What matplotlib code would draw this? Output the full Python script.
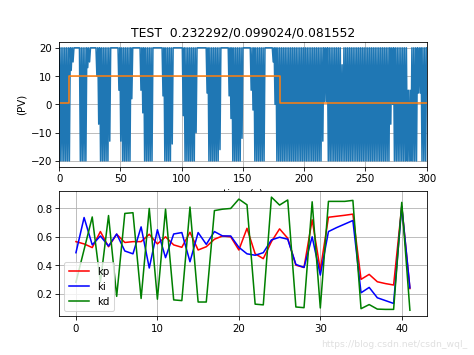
import numpy as np
import matplotlib
matplotlib.use("Agg")
import matplotlib.pyplot as plt

# ---- PV (controller output), bang-bang between +20 / -20 ----
pv_dt = 0.75
pv_high, pv_low = 20, -20
# intervals where the output sits at +20
hold_start = [12, 25, 41, 59, 77, 93, 112, 131, 150, 168]
hold_end = [16, 30, 48, 66, 84, 100, 120, 138, 156, 174]
# shallow troughs (time, value)
trough_t = [9.5, 11, 23, 24.5, 30.5, 32, 40.5, 48.5, 50, 58.5,
            66.5, 68, 84.5, 92.5, 100.5, 111.5, 120.5, 130.5, 138.5, 140,
            149.5, 156.5, 158, 174.5, 176,
            215, 216.5, 218, 270.5, 272, 293.5, 295, 299.5]
trough_v = [12, 15, 13, 15, 10, -7, -13, 5, -13, 2,
            5, -3, 3, -14, -4, -10, 4, -16, 3, -5,
            -12, 5, -2, 15, 0,
            -13, 1, 1, -7, 0, 4, 4, -20]
# low peaks (time, value)
peak_t = [230, 284, 285.5]
peak_v = [14, 5, 5]

# setpoint
sp_t = [0, 8, 180, 300]
sp_v = [0.6, 10, 0.6, 0.6]

# ---- PID gains per run ----
runs = list(range(42))
kp = [0.566, 0.55, 0.524, 0.637, 0.53, 0.618, 0.56, 0.566, 0.566, 0.618,
      0.55, 0.60, 0.543, 0.526, 0.632, 0.507, 0.53, 0.583, 0.606, 0.60,
      0.507, 0.66, 0.48, 0.446, 0.566, 0.656, 0.59, 0.40, 0.384, 0.72,
      0.365, 0.738, 0.745, 0.752, 0.76, 0.30, 0.335, 0.283, 0.27, 0.26,
      0.815, 0.235]
ki = [0.488, 0.736, 0.543, 0.606, 0.535, 0.62, 0.50, 0.48, 0.67, 0.38,
      0.65, 0.453, 0.62, 0.63, 0.424, 0.63, 0.547, 0.637, 0.606, 0.606,
      0.526, 0.48, 0.47, 0.488, 0.578, 0.597, 0.583, 0.405, 0.384, 0.60,
      0.33, 0.637, 0.665, 0.69, 0.715, 0.205, 0.243, 0.17, 0.15, 0.13,
      0.815, 0.24]
kd = [0.28, 0.51, 0.74, 0.28, 0.75, 0.18, 0.765, 0.77, 0.165, 0.80,
      0.16, 0.795, 0.155, 0.15, 0.81, 0.14, 0.14, 0.785, 0.795, 0.80,
      0.866, 0.826, 0.125, 0.12, 0.88, 0.824, 0.86, 0.105, 0.10, 0.847,
      0.098, 0.85, 0.85, 0.85, 0.857, 0.093, 0.122, 0.09, 0.088, 0.088,
      0.843, 0.082]

# build the PV trace from the pieces above
n = int(300 / pv_dt) + 1
idx = np.arange(n)
pv_t = idx * pv_dt
pv = np.where(idx % 2 == 0, pv_high, pv_low).astype(float)
for a, b in zip(hold_start, hold_end):
    pv[(pv_t >= a) & (pv_t <= b)] = pv_high


def nearest(t, odd):
    i = int(round(t / pv_dt))
    if (i % 2 == 1) != odd:
        i = i + 1 if i + 1 < n else i - 1
    return i


for t, v in zip(trough_t, trough_v):
    pv[nearest(t, True)] = v
for t, v in zip(peak_t, peak_v):
    pv[nearest(t, False)] = v

fig = plt.figure(figsize=(6.4, 4.8), dpi=74.0625)

ax1 = plt.subplot(211)
ax1.plot(pv_t, pv)
ax1.plot(sp_t, sp_v, drawstyle="steps-post")
ax1.set_title("TEST  0.232292/0.099024/0.081552")
ax1.set_ylabel("(PV)")
ax1.set_xlabel("time (s)")
ax1.set_xlim(0, 300)
ax1.grid(True)

ax2 = plt.subplot(212)
ax2.plot(runs, kp, color="r", label="kp")
ax2.plot(runs, ki, color="b", label="ki")
ax2.plot(runs, kd, color="g", label="kd")
ax2.legend(loc="lower left")
ax2.grid(True)

fig.text(0.985, 0.025, "https://blog.csdn.net/csdn_wql_", ha="right",
         fontsize=9, color="#e0e0e0")

plt.savefig("out.png", dpi=74.0625)
